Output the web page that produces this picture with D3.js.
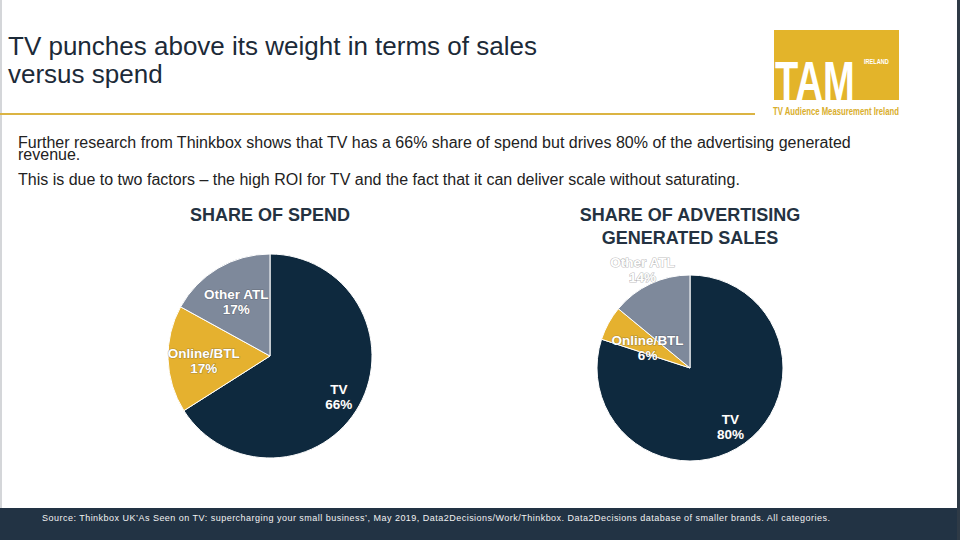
<!DOCTYPE html>
<html>
<head>
<meta charset="utf-8">
<script src="https://cdn.jsdelivr.net/npm/d3@7"></script>
<style>
  body { margin: 0; background: #fff; }
  svg { display: block; font-family: "Liberation Sans", Arial, sans-serif; }
</style>
</head>
<body>
<svg id="chart" width="960" height="540"></svg>
<script>
// data
const categories = ['TV', 'Online/BTL', 'Other ATL'];
const spendValues = [66, 17, 17];
const salesValues = [80, 6, 14];
const colors = ['#0e293e', '#e5b12f', '#7e899b'];

const titleLines = ['TV punches above its weight in terms of sales', 'versus spend'];
const bodyLines = [
    'Further research from Thinkbox shows that TV has a 66% share of spend but drives 80% of the advertising generated',
    'revenue.',
    'This is due to two factors \u2013 the high ROI for TV and the fact that it can deliver scale without saturating.'
];
const sourceText = 'Source:  Thinkbox UK\u2019As Seen on TV: supercharging your small business\u2019, May 2019, Data2Decisions/Work/Thinkbox. Data2Decisions database of smaller brands. All categories.';

const svg = d3.select('#chart');

// frame
svg.append('line').attr('x1', 1).attr('x2', 1).attr('y1', 0).attr('y2', 508)
    .attr('stroke', '#d4d6d9').attr('stroke-width', 2);
svg.append('rect').attr('x', 0).attr('y', 508).attr('width', 960).attr('height', 32)
    .attr('fill', '#223344');
svg.append('rect').attr('x', 957).attr('y', 0).attr('width', 3).attr('height', 540)
    .attr('fill', '#2e3a46');

// title
svg.append('g').selectAll('text')
    .data(titleLines)
    .enter()
    .append('text')
    .attr('x', 8)
    .attr('y', (d, i) => 55 + i * 28)
    .attr('font-size', 26)
    .attr('fill', '#1c2a38')
    .text(d => d);

svg.append('line').attr('x1', 0).attr('x2', 755).attr('y1', 114).attr('y2', 114)
    .attr('stroke', '#dbb443').attr('stroke-width', 2);

// logo
const logo = svg.append('g');
logo.append('rect').attr('x', 774).attr('y', 30).attr('width', 125).attr('height', 70)
    .attr('fill', '#e3b42a');
logo.append('text')
    .attr('transform', 'translate(775,100) scale(0.68,1)')
    .attr('font-size', 56).attr('font-weight', 'bold').attr('fill', '#fff')
    .text('TAM');
logo.append('text')
    .attr('transform', 'translate(864,64) scale(0.7,1)')
    .attr('font-size', 8).attr('font-weight', 'bold').attr('fill', '#fff')
    .text('IRELAND');
logo.append('text').attr('x', 773).attr('y', 115)
    .attr('font-size', 10).attr('font-weight', 'bold').attr('fill', '#d9ae2c')
    .attr('textLength', 126).attr('lengthAdjust', 'spacingAndGlyphs')
    .text('TV Audience Measurement Ireland');

// body text
svg.append('g').selectAll('text')
    .data(bodyLines)
    .enter()
    .append('text')
    .attr('x', 18)
    .attr('y', (d, i) => [148, 160, 185][i])
    .attr('font-size', 16)
    .attr('fill', '#222')
    .text(d => d);

// source
svg.append('text').attr('x', 42).attr('y', 521)
    .attr('font-size', 9).attr('fill', '#f2f2f2')
    .attr('textLength', 788).attr('lengthAdjust', 'spacing')
    .text(sourceText);

const colorScale = d3.scaleOrdinal().domain(categories).range(colors);
const pie = d3.pie().sort(null).value(d => d.value);

function drawPie(values, cx, cy, r, heading, labelR) {
    const rows = categories.map((c, i) => ({ name: c, value: values[i] }));
    const g = svg.append('g').attr('transform', `translate(${cx},${cy})`);
    const arc = d3.arc().innerRadius(0).outerRadius(r);

    g.selectAll('path')
        .data(pie(rows))
        .enter()
        .append('path')
        .attr('d', arc)
        .attr('fill', d => colorScale(d.data.name))
        .attr('stroke', '#fff')
        .attr('stroke-width', 1);

    const lab = g.selectAll('g.lab')
        .data(pie(rows))
        .enter()
        .append('g')
        .attr('class', 'lab')
        .attr('transform', (d, i) => {
            const a = (d.startAngle + d.endAngle) / 2;
            const rr = r * labelR[i];
            return `translate(${Math.sin(a) * rr},${-Math.cos(a) * rr})`;
        });
    lab.selectAll('text')
        .data(d => [d.data.name, d.data.value + '%'])
        .enter()
        .append('text')
        .attr('y', (d, i) => i === 0 ? 0 : 15)
        .attr('text-anchor', 'middle')
        .attr('font-size', 13.5)
        .attr('font-weight', 'bold')
        .attr('fill', '#fff')
        .attr('stroke', 'rgba(60,60,60,0.35)')
        .attr('stroke-width', 1.2)
        .attr('paint-order', 'stroke')
        .text(d => d);

    svg.append('g').selectAll('text')
        .data(heading)
        .enter()
        .append('text')
        .attr('x', cx)
        .attr('y', (d, i) => 221 + i * 23)
        .attr('text-anchor', 'middle')
        .attr('font-size', 18)
        .attr('font-weight', 'bold')
        .attr('fill', '#243241')
        .text(d => d);
}

drawPie(spendValues, 270, 356, 102, ['SHARE OF SPEND'], [0.77, 0.65, 0.65]);
drawPie(salesValues, 690, 368, 93, ['SHARE OF ADVERTISING', 'GENERATED SALES'], [0.74, 0.52, 1.2]);
</script>
</body>
</html>
